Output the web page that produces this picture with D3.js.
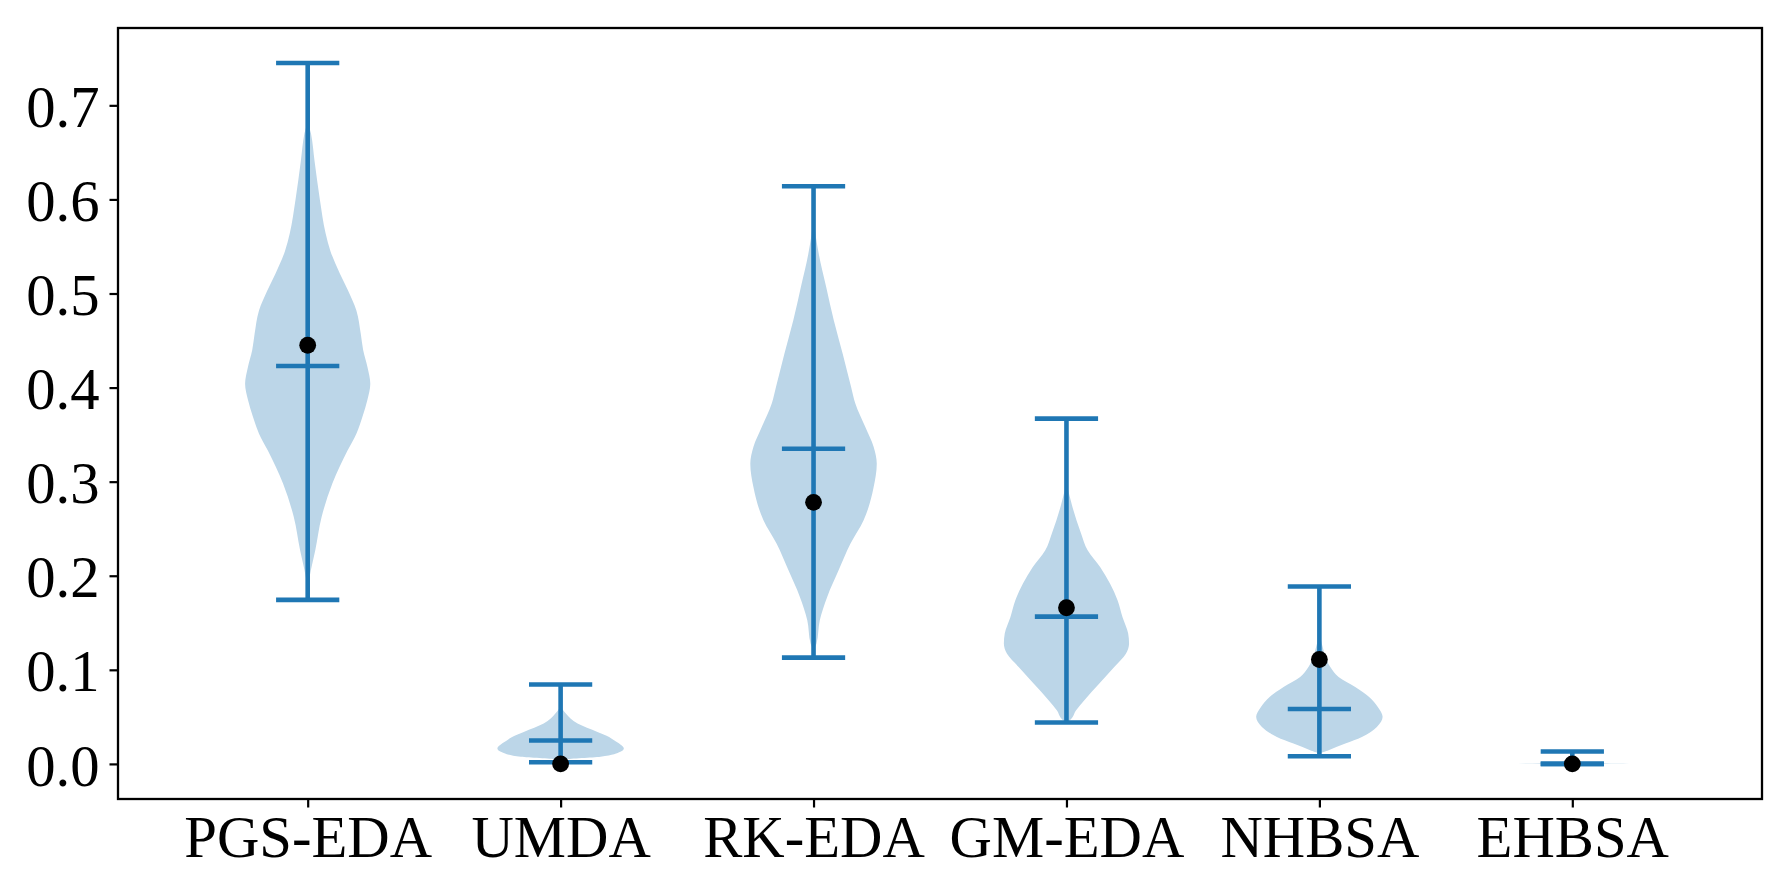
<!DOCTYPE html>
<html>
<head>
<meta charset="utf-8">
<script src="https://cdn.jsdelivr.net/npm/d3@7"></script>
<style>
  html, body { margin: 0; padding: 0; background: #fff; }
  svg { display: block; }
  text { font-family: "Liberation Serif", "Times New Roman", serif; fill: #000; }
</style>
</head>
<body>
<svg id="chart" width="1786" height="881"></svg>
<script>
// ---- data ----
const categories = ["PGS-EDA", "UMDA", "RK-EDA", "GM-EDA", "NHBSA", "EHBSA"];
const mins    = [0.1743, 0.0018, 0.113, 0.044, 0.0082, 0.0];
const maxs    = [0.745, 0.0844, 0.614, 0.367, 0.1885, 0.0132];
const medians = [0.423, 0.0249, 0.335, 0.1566, 0.0584, 0.0];
const points  = [0.445, 0.0, 0.278, 0.166, 0.111, 0.0];
const yTicks  = [0.0, 0.1, 0.2, 0.3, 0.4, 0.5, 0.6, 0.7];

// violin profiles: [value, relative density (0..1)]
const profilePGS = [[0.1743,0],[0.185,0.002],[0.199,0.031],[0.227,0.12],[0.2625,0.22],[0.298,0.39],[0.333,0.63],[0.351,0.77],[0.369,0.866],[0.387,0.945],[0.404,0.99],[0.422,0.945],[0.440,0.877],[0.457,0.84],[0.482,0.77],[0.503,0.64],[0.521,0.51],[0.545,0.36],[0.564,0.283],[0.599,0.194],[0.640,0.11],[0.670,0.052],[0.684,0.005],[0.745,0]];
const profileUMDA = [[0.0018,0],[0.0047,0.08],[0.0075,0.63],[0.0128,0.945],[0.0164,1.0],[0.0252,0.845],[0.0287,0.767],[0.034,0.583],[0.043,0.268],[0.0535,0.083],[0.0624,0.008],[0.0844,0]];
const profileRK = [[0.113,0],[0.121,0.008],[0.128,0.047],[0.1527,0.099],[0.1775,0.216],[0.206,0.398],[0.234,0.583],[0.259,0.792],[0.294,0.95],[0.319,1.0],[0.337,0.95],[0.358,0.819],[0.383,0.661],[0.4006,0.594],[0.436,0.461],[0.4715,0.32],[0.507,0.2],[0.542,0.083],[0.580,0.008],[0.614,0]];
const profileGM = [[0.044,0],[0.046,0.047],[0.057,0.153],[0.0677,0.283],[0.0854,0.52],[0.103,0.756],[0.117,0.94],[0.128,0.99],[0.1386,0.976],[0.156,0.887],[0.174,0.808],[0.1917,0.688],[0.209,0.535],[0.227,0.335],[0.245,0.231],[0.280,0.068],[0.3015,0.005],[0.367,0]];
const profileNH = [[0.0082,0],[0.011,0.016],[0.0146,0.146],[0.0217,0.41],[0.0287,0.672],[0.0393,0.909],[0.050,1.0],[0.0606,0.924],[0.0712,0.787],[0.0818,0.567],[0.0925,0.304],[0.103,0.173],[0.1243,0.052],[0.140,0.008],[0.1885,0]];
const profileEH = [[0.0,1.0],[0.0008,0.3],[0.0015,0],[0.0132,0]];
const profiles = [profilePGS, profileUMDA, profileRK, profileGM, profileNH, profileEH];

// ---- layout ----
const svg = d3.select("#chart");
const plotLeft = 118, plotRight = 1762, plotTop = 28, plotBottom = 799;
const fontSize = 58.7;
const blue = "#1f77b4";
const fillBlue = "#bcd6e8";
const violinWidth = 0.5;

const x = d3.scaleLinear().domain([0.25, 6.75]).range([plotLeft, plotRight]);
const y = d3.scaleLinear().domain([-0.0373, 0.7822]).range([plotBottom, plotTop]);
const unit = x(1) - x(0);

// ---- violins ----
const g = svg.append("g");
profiles.forEach((prof, i) => {
  const cx = x(i + 1);
  const hw = d => d[1] * violinWidth / 2 * unit;
  const area = d3.area()
    .y(d => y(d[0]))
    .x0(d => cx - hw(d))
    .x1(d => cx + hw(d))
    .curve(d3.curveMonotoneY);
  g.append("path")
    .attr("d", area(prof))
    .attr("fill", fillBlue)
    .attr("stroke", "none");
});

// ---- bars, caps, medians ----
const lw = 4.6;
categories.forEach((c, i) => {
  const cx = x(i + 1);
  const capHalf = violinWidth / 4 * unit;
  g.append("line")
    .attr("x1", cx).attr("x2", cx)
    .attr("y1", y(mins[i])).attr("y2", y(maxs[i]))
    .attr("stroke", blue).attr("stroke-width", lw);
  [mins[i], maxs[i], medians[i]].forEach(v => {
    g.append("line")
      .attr("x1", cx - capHalf).attr("x2", cx + capHalf)
      .attr("y1", y(v)).attr("y2", y(v))
      .attr("stroke", blue).attr("stroke-width", lw);
  });
});

// ---- points ----
points.forEach((v, i) => {
  g.append("circle")
    .attr("cx", x(i + 1)).attr("cy", y(v))
    .attr("r", 8.4).attr("fill", "#000");
});

// ---- axes frame ----
svg.append("rect")
  .attr("x", plotLeft).attr("y", plotTop)
  .attr("width", plotRight - plotLeft).attr("height", plotBottom - plotTop)
  .attr("fill", "none").attr("stroke", "#000").attr("stroke-width", 2.3);

// y axis ticks
const yAxis = d3.axisLeft(y).tickValues(yTicks).tickFormat(d3.format(".1f")).tickSize(8.5).tickPadding(10);
const ya = svg.append("g").attr("transform", `translate(${plotLeft},0)`).call(yAxis);
ya.select(".domain").remove();
ya.selectAll(".tick line").attr("stroke", "#000").attr("stroke-width", 2.2);
ya.selectAll(".tick text")
  .attr("font-family", '"Liberation Serif", "Times New Roman", serif')
  .attr("font-size", fontSize).attr("fill", "#000")
  .attr("dy", "0.36em");

// x axis ticks
const xAxis = d3.axisBottom(x).tickValues(d3.range(1, categories.length + 1))
  .tickFormat(d => categories[d - 1]).tickSize(8.5).tickPadding(10);
const xa = svg.append("g").attr("transform", `translate(0,${plotBottom})`).call(xAxis);
xa.select(".domain").remove();
xa.selectAll(".tick line").attr("stroke", "#000").attr("stroke-width", 2.2);
xa.selectAll(".tick text")
  .attr("font-family", '"Liberation Serif", "Times New Roman", serif')
  .attr("font-size", fontSize).attr("fill", "#000")
  .attr("y", 0).attr("dy", 58);
</script>
</body>
</html>
